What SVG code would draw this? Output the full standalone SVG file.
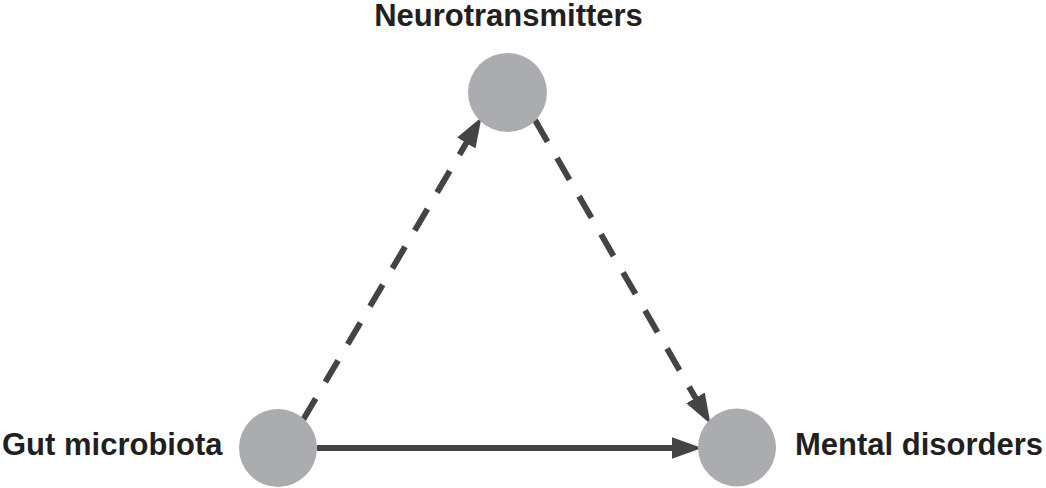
<svg xmlns="http://www.w3.org/2000/svg" width="1046" height="488" viewBox="0 0 1046 488">
  <style>
    .node { fill: #abacaf; }
    .label { font-family: "Liberation Sans", Arial, sans-serif; font-weight: bold; font-size: 31px; fill: #231f20; }
    .edge { stroke: #444444; stroke-width: 6; fill: none; }
    .dashed { stroke-dasharray: 25 19; }
  </style>
  <defs>
    <marker id="arrow" markerUnits="userSpaceOnUse" markerWidth="30" markerHeight="22" refX="14" refY="10" orient="auto" viewBox="0 0 28 20">
      <path d="M0,0 L28,10 L0,20 z" fill="#444444"/>
    </marker>
  </defs>
  <rect width="1046" height="488" fill="#ffffff"/>
  <g id="connectors">
    <line class="edge dashed" x1="303" y1="420" x2="473.9" y2="130.1" marker-end="url(#arrow)"/>
    <line class="edge dashed" x1="535" y1="120" x2="703" y2="410.9" marker-end="url(#arrow)"/>
    <line class="edge" x1="317" y1="448" x2="687" y2="448" marker-end="url(#arrow)"/>
  </g>
  <g id="node-neurotransmitters">
    <circle class="node" cx="507.5" cy="92.5" r="39.5"/>
    <text class="label" x="508.5" y="26" text-anchor="middle">Neurotransmitters</text>
  </g>
  <g id="node-gut-microbiota">
    <circle class="node" cx="278" cy="448" r="39"/>
    <text class="label" x="2" y="455">Gut microbiota</text>
  </g>
  <g id="node-mental-disorders">
    <circle class="node" cx="737" cy="447.5" r="39"/>
    <text class="label" x="795" y="455">Mental disorders</text>
  </g>
</svg>
